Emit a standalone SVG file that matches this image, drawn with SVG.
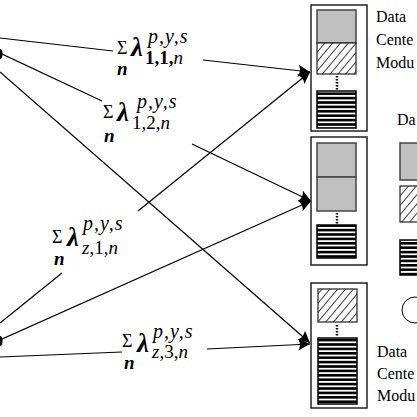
<svg xmlns="http://www.w3.org/2000/svg" width="417" height="417" viewBox="0 0 417 417">
<style>
.lbl{font-family:"Liberation Serif","Times New Roman",serif;fill:#000}
.sig{font-size:18px}
.lam{font-size:27px;font-weight:bold;font-style:italic}
.sup{font-size:20px;font-style:italic;letter-spacing:1px}
.sub{font-size:19px}
.it{font-style:italic}
.bd{font-weight:bold}
.nn{font-size:19px;font-weight:bold;font-style:italic}
.txt{font-family:"Liberation Serif","Times New Roman",serif;font-size:16px;fill:#000}
.outer{fill:#fff;stroke:#222;stroke-width:1.5}
.gray{fill:#c0c0c0;stroke:#444;stroke-width:1.5}
.hatch{fill:url(#hatch);stroke:#222;stroke-width:1.2}
.stripe{fill:url(#stripes);stroke:#000;stroke-width:1.5}
.dots{stroke:#000;stroke-width:2.5;stroke-dasharray:1.5 1.5}
.ln{stroke:#000;stroke-width:1.2;fill:none}
</style>
<defs>
<pattern id="hatch" width="6" height="6" patternUnits="userSpaceOnUse" patternTransform="rotate(40)">
<rect width="6" height="6" fill="#fff"/>
<line x1="0" y1="0" x2="0" y2="6" stroke="#000" stroke-width="1.5"/>
</pattern>
<pattern id="stripes" width="10" height="4.4" patternUnits="userSpaceOnUse">
<rect width="10" height="4.4" fill="#fff"/>
<rect width="10" height="2.6" fill="#000"/>
</pattern>
<marker id="arr" markerWidth="13" markerHeight="12" refX="12" refY="6" orient="auto" markerUnits="userSpaceOnUse">
<path d="M0,0 L12,6 L0,12 Q4,6 0,0 Z" fill="#000"/>
</marker>
</defs>

<g id="connectors">
<line class="ln" x1="0" y1="38" x2="113" y2="51"/>
<line class="ln" x1="203" y1="60" x2="310" y2="72" marker-end="url(#arr)"/>
<line class="ln" x1="0" y1="53" x2="102" y2="101"/>
<line class="ln" x1="192" y1="144" x2="311" y2="201" marker-end="url(#arr)"/>
<line class="ln" x1="0" y1="72" x2="310" y2="343" marker-end="url(#arr)"/>
<line class="ln" x1="0" y1="323" x2="62" y2="273"/>
<line class="ln" x1="138" y1="211" x2="310" y2="72" marker-end="url(#arr)"/>
<line class="ln" x1="0" y1="340" x2="311" y2="201" marker-end="url(#arr)"/>
<line class="ln" x1="0" y1="357" x2="122" y2="352"/>
<line class="ln" x1="207" y1="349" x2="310" y2="344" marker-end="url(#arr)"/>
</g>

<g id="src-top"><ellipse cx="0" cy="54" rx="2.5" ry="5" fill="#000"/></g>
<g id="src-bottom"><ellipse cx="0" cy="341" rx="2.5" ry="5" fill="#000"/></g>

<g id="label-11" class="lbl">
<text class="sig" x="117" y="54">Σ</text>
<text class="lam" x="131" y="56">λ</text>
<text class="sup" x="148" y="43">p,y,s</text>
<text class="sub" x="145" y="64"><tspan class="bd">1,1,</tspan><tspan class="it">n</tspan></text>
<text class="nn" x="117" y="75">n</text>
</g>
<g id="label-12" class="lbl">
<text class="sig" x="103" y="118">Σ</text>
<text class="lam" x="117" y="121">λ</text>
<text class="sup" x="137" y="108">p,y,s</text>
<text class="sub" x="132" y="129">1,2,<tspan class="it">n</tspan></text>
<text class="nn" x="104" y="142">n</text>
</g>
<g id="label-z1" class="lbl">
<text class="sig" x="52" y="243">Σ</text>
<text class="lam" x="67" y="246">λ</text>
<text class="sup" x="83" y="230">p,y,s</text>
<text class="sub" x="82" y="254"><tspan class="it">z</tspan>,1,<tspan class="it">n</tspan></text>
<text class="nn" x="54" y="265">n</text>
</g>
<g id="label-z3" class="lbl">
<text class="sig" x="122" y="347">Σ</text>
<text class="lam" x="137" y="352">λ</text>
<text class="sup" x="153" y="338">p,y,s</text>
<text class="sub" x="152" y="358"><tspan class="it">z</tspan>,3,<tspan class="it">n</tspan></text>
<text class="nn" x="124" y="369">n</text>
</g>

<g id="module-1">
<rect class="outer" x="311" y="5" width="56" height="126"/>
<rect class="gray" x="317" y="10" width="39" height="33"/>
<rect class="hatch" x="317" y="43" width="39" height="31"/>
<line class="dots" x1="337" y1="76" x2="337" y2="90"/>
<rect class="stripe" x="317" y="91" width="39" height="37"/>
</g>
<g id="module-2">
<rect class="outer" x="311" y="137" width="56" height="128"/>
<rect class="gray" x="317" y="143" width="39" height="34"/>
<rect class="gray" x="317" y="177" width="39" height="34"/>
<line class="dots" x1="337" y1="213" x2="337" y2="224"/>
<rect class="stripe" x="317" y="225" width="39" height="33"/>
</g>
<g id="module-3">
<rect class="outer" x="311" y="283" width="56" height="125"/>
<rect class="hatch" x="318" y="289" width="39" height="33"/>
<line class="dots" x1="337" y1="325" x2="337" y2="337"/>
<rect class="stripe" x="318" y="338" width="39" height="66"/>
</g>

<g id="legend">
<text class="txt" x="376" y="22">Data</text>
<text class="txt" x="376" y="45">Cente</text>
<text class="txt" x="376" y="68">Modu</text>
<text class="txt" x="397" y="125">Da</text>
<rect class="gray" x="400" y="143" width="30" height="37"/>
<rect class="hatch" x="400" y="186" width="30" height="36"/>
<rect class="stripe" x="400" y="240" width="30" height="35"/>
<circle cx="415" cy="310" r="13" fill="#fff" stroke="#000" stroke-width="1"/>
<text class="txt" x="377" y="357">Data</text>
<text class="txt" x="377" y="379">Cente</text>
<text class="txt" x="377" y="401">Modu</text>
</g>
</svg>
